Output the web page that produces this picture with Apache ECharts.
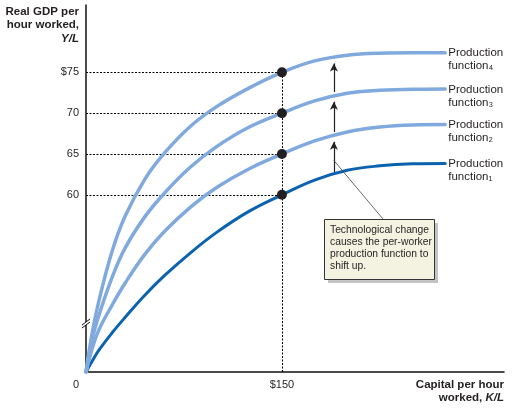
<!DOCTYPE html>
<html>
<head>
<meta charset="utf-8">
<script src="https://cdn.jsdelivr.net/npm/echarts@6/dist/echarts.min.js"></script>
<style>
html,body{margin:0;padding:0;background:#fff;}
#chart{width:516px;height:411px;}
</style>
</head>
<body>
<div id="chart"></div>
<script>
// ---- Data ----
const yTickValues = [60, 65, 70, 75];
const xTickValues = [0, 150];
const kValues = [0, 5, 10, 20, 30, 45, 60, 80, 100, 125, 150, 175, 200, 225, 250, 275];
const pf1 = [38.3, 39.7, 41.0, 43.1, 45.0, 47.7, 50.1, 52.9, 55.4, 58.0, 60.0, 61.8, 63.0, 63.55, 63.8, 63.85];
const pf2 = [38.3, 41.3, 43.5, 46.5, 49.2, 52.7, 55.5, 58.5, 60.9, 63.2, 65.0, 66.6, 67.7, 68.3, 68.55, 68.6];
const pf3 = [38.3, 42.5, 45.3, 49.9, 53.5, 57.3, 60.2, 63.4, 65.9, 68.3, 70.0, 71.5, 72.45, 72.8, 72.93, 72.95];
const pf4 = [38.3, 43.3, 47.1, 53.1, 57.4, 61.9, 65.1, 68.4, 70.8, 73.1, 75.0, 76.4, 77.1, 77.35, 77.4, 77.4];
const seriesNames = ['Production function\u2081','Production function\u2082','Production function\u2083','Production function\u2084'];
const labelSubs = ['\u2081','\u2082','\u2083','\u2084'];
const pointK = 150;
const pointLevels = [60, 65, 70, 75];
const arrowK = 189.8;
const arrowSpans = [[62.8, 66.5], [67.7, 71.4], [72.6, 76.1]];
const leaderFrom = [189.8, 64.2];
const yMin = 38.3, yMax = 83.25, xMin = 0, xMax = 320;

const FONT = "'Liberation Sans', Arial, Helvetica, sans-serif";
const TXT = '#231f20';
const DARK = '#0b63b0';
const LIGHT = '#80aade';

const chart = echarts.init(document.getElementById('chart'), null, {renderer: 'canvas'});

function curve(name, ys, color, width, idx) {
  return {
    name: name, type: 'line', data: kValues.map((k, i) => [k, ys[i]]), smooth: 0.4,
    showSymbol: false, symbol: 'none',
    lineStyle: {color: color, width: width, cap: 'round', join: 'round'},
    z: 3, silent: true,
    endLabel: {
      show: true, distance: 3, offset: [0, 7],
      formatter: 'Production\nfunction' + labelSubs[idx],
      color: TXT, fontFamily: FONT, fontSize: 11.5, lineHeight: 13, align: 'left'
    }
  };
}

const guideLines = pointLevels.map(v => [{coord: [xMin, v]}, {coord: [pointK, v]}]);
guideLines.push([{coord: [pointK, yMin]}, {coord: [pointK, Math.max(...pointLevels)]}]);

const option = {
  animation: false,
  backgroundColor: '#fff',
  grid: {left: 86, right: 12, top: 5, bottom: 39, containLabel: false},
  xAxis: {
    type: 'value', min: xMin, max: xMax,
    axisLine: {show: true, lineStyle: {color: '#111', width: 1.5}},
    axisTick: {show: false}, splitLine: {show: false},
    axisLabel: {
      customValues: xTickValues, margin: 7, color: TXT, fontFamily: FONT, fontSize: 11,
      formatter: v => v === 0 ? '{z|0}' : '$' + v,
      rich: {z: {padding: [0, 20, 0, 0], color: TXT, fontFamily: FONT, fontSize: 11}}
    }
  },
  yAxis: {
    type: 'value', min: yMin, max: yMax,
    axisLine: {show: true, lineStyle: {color: '#111', width: 1.5}},
    axisTick: {show: false}, splitLine: {show: false},
    axisLabel: {
      customValues: yTickValues, margin: 7, color: TXT, fontFamily: FONT, fontSize: 11,
      formatter: v => v === 75 ? '$75' : String(v)
    }
  },
  series: [
    curve(seriesNames[0], pf1, DARK, 3, 0),
    curve(seriesNames[1], pf2, LIGHT, 3.5, 1),
    curve(seriesNames[2], pf3, LIGHT, 3.5, 2),
    curve(seriesNames[3], pf4, LIGHT, 3.5, 3),
    {
      type: 'scatter', data: pointLevels.map(v => [pointK, v]), symbolSize: 10,
      itemStyle: {color: TXT, opacity: 1}, z: 5, silent: true,
      markLine: {
        silent: true, symbol: ['none', 'none'], label: {show: false},
        lineStyle: {color: '#000', width: 1, type: [2, 1.5]},
        data: guideLines, z: 1
      }
    },
    {
      type: 'line', data: [], silent: true,
      markLine: {
        silent: true, symbol: ['none', 'arrow'], symbolSize: [6, 8], label: {show: false},
        lineStyle: {color: TXT, width: 1.2, type: 'solid'},
        data: arrowSpans.map(s => [{coord: [arrowK, s[0]]}, {coord: [arrowK, s[1]]}]), z: 4
      }
    }
  ]
};
chart.setOption(option);

// annotation graphics (layout)
const lf = chart.convertToPixel({gridIndex: 0}, leaderFrom);
const brk = chart.convertToPixel({gridIndex: 0}, [0, 44.3]);
chart.setOption({
  graphic: [
    {type: 'text', x: 79, y: 5, style: {
      text: 'Real GDP per\nhour worked,\n{i|Y/L}', align: 'right', verticalAlign: 'top',
      fill: TXT, font: 'bold 11.5px ' + FONT, lineHeight: 13.5,
      rich: {i: {fontStyle: 'italic', fontWeight: 'bold', fontSize: 11.5, fontFamily: FONT, fill: TXT, lineHeight: 13.5}}
    }},
    {type: 'text', x: 504, y: 378, style: {
      text: 'Capital per hour\nworked, {i|K/L}', align: 'right', verticalAlign: 'top',
      fill: TXT, font: 'bold 11.5px ' + FONT, lineHeight: 13,
      rich: {i: {fontStyle: 'italic', fontWeight: 'bold', fontSize: 11.5, fontFamily: FONT, fill: TXT, lineHeight: 13}}
    }},
    {type: 'line', shape: {x1: lf[0], y1: lf[1], x2: 383, y2: 219}, style: {stroke: '#444', lineWidth: 0.8}, z: 10},
    {type: 'rect', shape: {x: 328, y: 223, width: 110, height: 60}, style: {fill: '#c4c4c4'}, z: 10},
    {type: 'rect', shape: {x: 324.5, y: 219.5, width: 110, height: 60}, style: {fill: '#f4f2e1', stroke: '#333', lineWidth: 1}, z: 11},
    {type: 'text', x: 330, y: 224, z: 12, style: {
      text: 'Technological change\ncauses the per-worker\nproduction function to\nshift up.',
      fill: TXT, font: '10.3px ' + FONT, lineHeight: 12, align: 'left', verticalAlign: 'top'
    }},
    {type: 'polygon', shape: {points: [[82, brk[1] + 2], [90, brk[1] - 4], [90, brk[1] - 1], [82, brk[1] + 5]]}, style: {fill: '#fff'}, z: 20},
    {type: 'line', shape: {x1: 82, y1: brk[1] + 2, x2: 90, y2: brk[1] - 4}, style: {stroke: '#111', lineWidth: 1}, z: 21},
    {type: 'line', shape: {x1: 82, y1: brk[1] + 5, x2: 90, y2: brk[1] - 1}, style: {stroke: '#111', lineWidth: 1}, z: 21}
  ]
});
</script>
</body>
</html>
